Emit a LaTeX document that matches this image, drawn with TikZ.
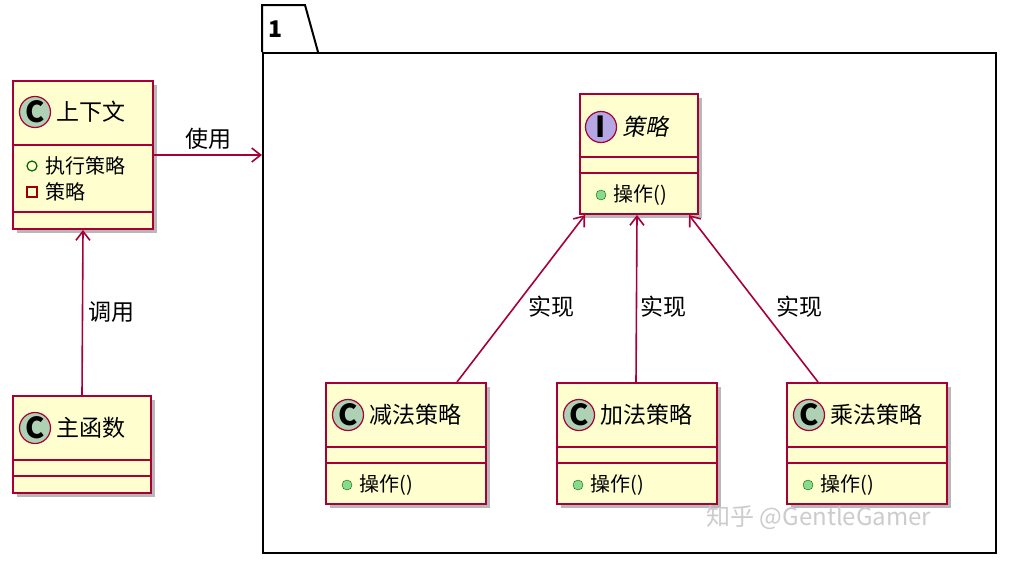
\documentclass[tikz,border=0pt]{standalone}
\usepackage{fontspec}
\setmainfont{Noto Sans CJK SC}
\newfontfamily\slantcjk[FakeSlant=0.2]{Noto Sans CJK SC}
\usetikzlibrary{positioning, arrows.meta, shadows}
\definecolor{clsfill}{HTML}{FEFECE}
\definecolor{clsline}{HTML}{A80036}
\definecolor{cgreen}{HTML}{ADD1B2}
\definecolor{ipurple}{HTML}{B4A7E5}
\tikzset{
    cls/.style={draw=clsline, fill=clsfill, line width=2pt, anchor=north west, inner sep=0pt,
        drop shadow={shadow xshift=4pt, shadow yshift=-4pt, fill=black!55}}, % class boxes
    divider/.style={draw=clsline, line width=2pt},
    stereo/.style={circle, draw=clsline, line width=1.2pt, minimum size=31pt, inner sep=0pt, font=\bfseries\fontsize{29}{29}\selectfont},
    title/.style={anchor=west, font=\fontsize{23}{23}\selectfont},
    member/.style={anchor=west, font=\fontsize{20}{22}\selectfont, align=left},
    link/.style={draw=clsline, line width=1.6pt, -{Straight Barb[length=9pt,width=14pt]}},
    lbl/.style={font=\fontsize{23}{23}\selectfont},
    pub/.style={circle, draw=black!60!green, fill=cgreen!80!green, minimum size=10pt, inner sep=0pt},
}
\begin{document}
\begin{tikzpicture}[x=1pt, y=-1pt]
    \useasboundingbox[fill=white] (0,0) rectangle (1024,560);
    % package
    \draw[line width=2pt] (262,52) -- (262,5) -- (305,5) -- (318,52);
    \node[draw, line width=2pt, anchor=north west, minimum width=733, minimum height=500, inner sep=0pt] (pkg) at (262,52) {};
    \node[anchor=west, font=\bfseries\fontsize{23}{23}\selectfont] at (265,29) {1};
    % context class
    \node[cls, minimum width=140, minimum height=148] (ctx) at (12,80) {};
    \draw[divider] (12,145) -- (152,145) (12,212) -- (152,212);
    \node[stereo, fill=cgreen] (ctxc) at (35,112) {C};
    \node[title, right=2pt of ctxc] {上下文};
    \node[circle, draw=black!60!green, line width=1.2pt, minimum size=10pt, inner sep=0pt] (o1) at (32,166) {};
    \node[member, right=4pt of o1] {执行策略};
    \node[draw=red!60!black, line width=1.2pt, minimum size=10pt, inner sep=0pt] (o2) at (32,192) {};
    \node[member, right=4pt of o2] {策略};
    % main class
    \node[cls, minimum width=138, minimum height=97] (main) at (12,395) {};
    \draw[divider] (12,460) -- (150,460) (12,476) -- (150,476);
    \node[stereo, fill=cgreen] (mainc) at (35,428) {C};
    \node[title, right=2pt of mainc] {主函数};
    % strategy interface
    \node[cls, minimum width=118, minimum height=120] (strat) at (579,93) {};
    \draw[divider] (579,157) -- (697,157) (579,173) -- (697,173);
    \node[stereo, fill=ipurple] (stratc) at (601,127) {I};
    \node[title, right=2pt of stratc, font=\slantcjk\fontsize{23}{23}\selectfont] {策略};
    \node[pub] (sp) at (601,195) {};
    \node[member, right=4pt of sp] {操作()};
    % concrete strategies
    \foreach \nm/\x/\txt in {sub/325/减法策略, add/556/加法策略, mul/786/乘法策略}{
        \node[cls, minimum width=160, minimum height=121] (\nm) at (\x,382) {};
        \draw[divider] (\x,447) -- (\x+160,447) (\x,463) -- (\x+160,463);
        \node[stereo, fill=cgreen] (\nm c) at (\x+23,415) {C};
        \node[title, right=2pt of \nm c] {\txt};
        \node[pub] (\nm p) at (\x+22,485) {};
        \node[member, right=4pt of \nm p] {操作()};
    }
    % links
    \draw[link] (ctx.east |- 0,155) -- (pkg.west |- 0,155) node[lbl, midway, above=1pt] {使用};
    \draw[link] (main.north) -- (ctx.south) node[lbl, midway, right=2pt] {调用};
    \draw[link] ([xshift=-30pt]sub.north east) -- ([xshift=6pt]strat.south west) node[lbl, pos=0.45, right=10pt] {实现};
    \draw[link] ([xshift=-1pt]add.north) -- ([xshift=-2pt]strat.south) node[lbl, pos=0.45, right=0pt] {实现};
    \draw[link] ([xshift=32pt]mul.north west) -- ([xshift=-10pt]strat.south east) node[lbl, pos=0.45, right=12pt] {实现};
    % watermark
    \node[anchor=west, text=black!20, font=\fontsize{24}{24}\selectfont] at (703,517) {知乎 @GentleGamer};
\end{tikzpicture}
\end{document}
